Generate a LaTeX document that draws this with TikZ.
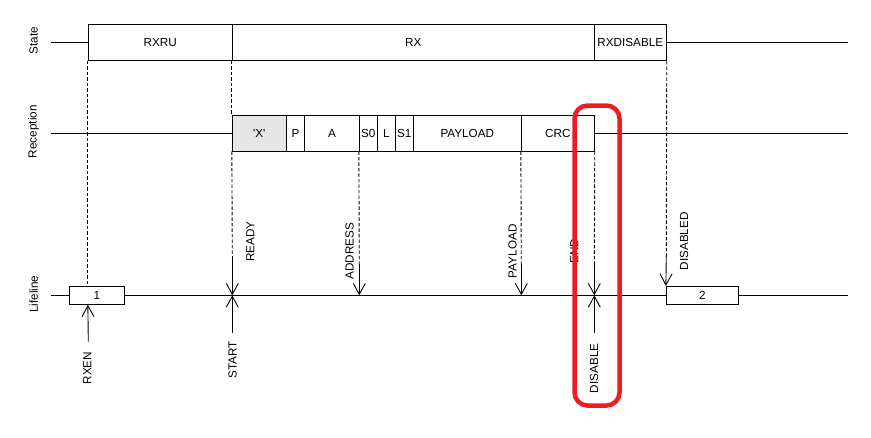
\documentclass[tikz,border=0pt]{standalone}
\usepackage{fontspec}
\setmainfont{Liberation Sans}
\usetikzlibrary{arrows.meta}
\definecolor{hl}{RGB}{237,28,36}
\definecolor{xfill}{RGB}{230,230,230}
\begin{document}
\begin{tikzpicture}[x=1pt,y=-1pt, line width=0.9pt,
  box/.style={draw, inner sep=0pt, font=\fontsize{11.7}{14}\selectfont},
  lbl/.style={inner sep=0pt, font=\fontsize{11.7}{14}\selectfont},
  vlbl/.style={lbl, rotate=90},
  dashline/.style={dash pattern=on 3.5pt off 2pt},
  sig/.style={-{Straight Barb[length=11pt,width=12pt]}}]
\useasboundingbox (0,0) rectangle (871,437);
% State row
\node[box, minimum width=144pt, minimum height=36pt] (rxru) at (160.3,42.3) {RXRU};
\node[box, minimum width=362pt, minimum height=36pt] (rx) at (413.3,42.3) {RX};
\node[box, minimum width=72pt, minimum height=36pt] (rxdis) at (630.3,42.3) {RXDISABLE};
% Reception row
\node[box, fill=xfill, minimum width=54pt, minimum height=35.3pt] (xb) at (259.3,133.3) {\textquotesingle X\textquotesingle};
\node[box, minimum width=18.4pt, minimum height=35.3pt] (pb) at (295.5,133.3) {P};
\node[box, minimum width=54.6pt, minimum height=35.3pt] (ab) at (332,133.3) {A};
\node[box, minimum width=18pt, minimum height=35.3pt] (s0) at (368.3,133.3) {S0};
\node[box, minimum width=18pt, minimum height=35.3pt] (lb) at (386.3,133.3) {L};
\node[box, minimum width=18pt, minimum height=35.3pt] (s1) at (404.3,133.3) {S1};
\node[box, minimum width=108pt, minimum height=35.3pt] (pl) at (467.3,133.3) {PAYLOAD};
\node[box, minimum width=73pt, minimum height=35.3pt] (crc) at (557.8,133.3) {CRC};
% Lifeline boxes
\node[box, minimum width=55pt, minimum height=18pt] (b1) at (96.8,295.3) {1};
\node[box, minimum width=72pt, minimum height=18pt] (b2) at (702.3,295.3) {2};
% row lines
\coordinate (sl) at (51,42.3); \coordinate (sr) at (847.7,42.3);
\coordinate (rl) at (51,133.3); \coordinate (rr) at (847.7,133.3);
\coordinate (ll) at (51,295.3); \coordinate (lr) at (847.7,295.3);
\draw (sl) -- (rxru.west); \draw (rxdis.east) -- (sr);
\draw (rl) -- (xb.west); \draw (crc.east) -- (rr);
\draw (ll) -- (b1.west); \draw (b1.east) -- (b2.west); \draw (b2.east) -- (lr);
% event coordinates
\coordinate (ready) at (232.3,256);
\coordinate (tready) at (232.3,295.3);
\coordinate (start) at (232.3,332.7);
\coordinate (addr) at (359.3,265);
\coordinate (taddr) at (359.3,295.3);
\coordinate (pay) at (521.3,265);
\coordinate (tpay) at (521.3,295.3);
\coordinate (endc) at (594.3,265);
\coordinate (tend) at (594.3,295.3);
\coordinate (disable) at (594.3,332.7);
\coordinate (dis) at (666.3,256);
\coordinate (rxen) at (88.3,341.7);
% dashed guides
\draw[dashline] (rxru.south west) -- (rxru.south west |- b1.north);
\draw[dashline] (rx.south west) -- (xb.north west);
\draw[dashline] (xb.south west) -- (ready);
\draw[dashline] (s0.south west) -- (addr);
\draw[dashline] (crc.south west) -- (pay);
\draw[dashline] (crc.south east) -- (endc);
\draw[dashline] (rxdis.south east) -- (dis);
% signals
\draw[sig] (ready) -- (tready);
\draw[sig] (start) -- (tready);
\draw[sig] (addr) -- (taddr);
\draw[sig] (pay) -- (tpay);
\draw[sig] (endc) -- (tend);
\draw[sig] (disable) -- (tend);
\draw[sig] (dis) -- (b2.north west);
\draw[sig] (rxen) -- (rxru.south west |- b1.south);
% labels
\node[vlbl] (lready) at (250.3,241.8) {READY};
\node[vlbl] (laddr) at (349.7,251.3) {ADDRESS};
\node[vlbl] (lstart) at (232.5,360) {START};
\node[vlbl] (lrxen) at (87.3,368) {RXEN};
\node[vlbl] (lpay) at (512.7,251.3) {PAYLOAD};
\node[vlbl] (lend) at (574.3,251) {END};
\node[vlbl] (ldisable) at (594.2,368.3) {DISABLE};
\node[vlbl] (ldis) at (684.2,241.3) {DISABLED};
\node[vlbl] (lstate) at (33.7,40.7) {State};
\node[vlbl] (lrec) at (33.7,131.7) {Reception};
\node[vlbl] (llife) at (33.7,294.2) {Lifeline};
% highlight
\draw[hl, line width=4.5pt, rounded corners=13pt] (574.5,105.5) rectangle (619.5,405.5);
\end{tikzpicture}
\end{document}
